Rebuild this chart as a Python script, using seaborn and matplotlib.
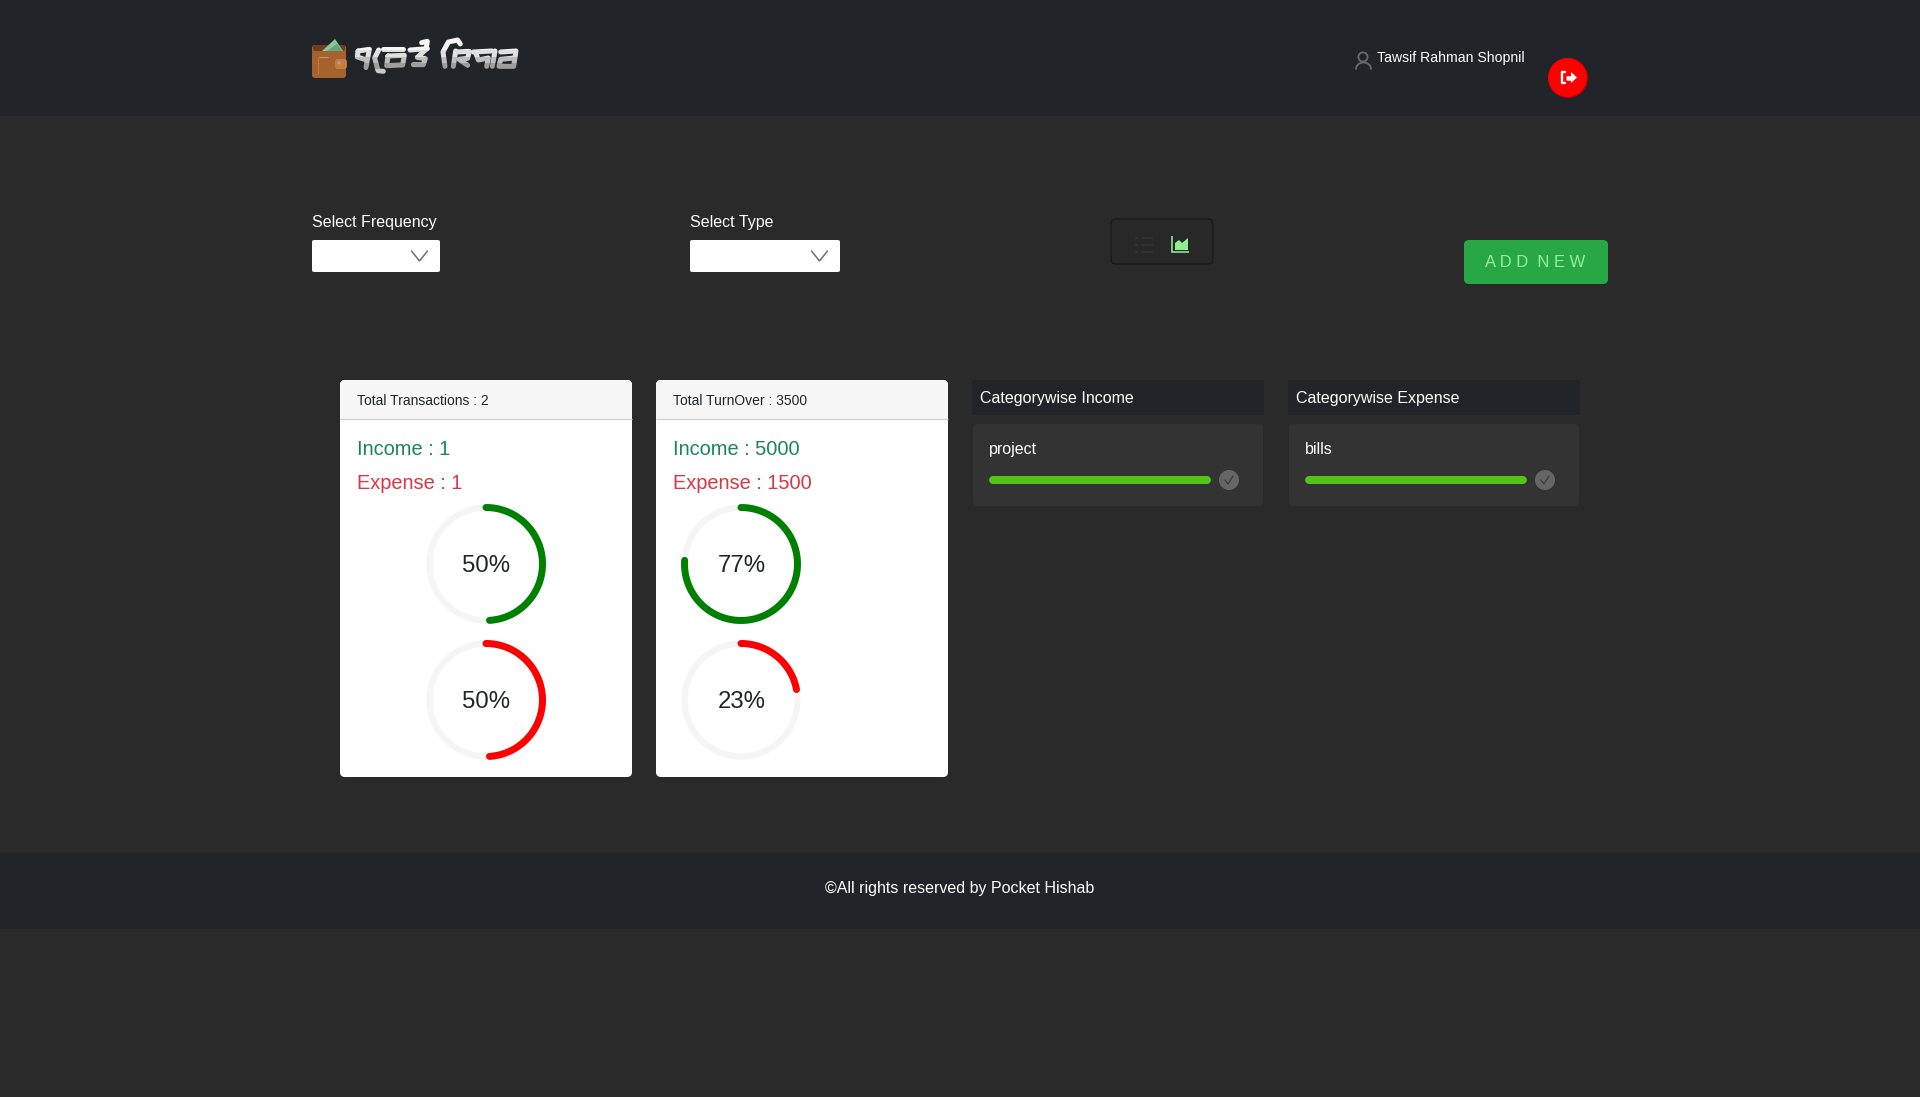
import numpy as np
import matplotlib
matplotlib.use("Agg")
import matplotlib.pyplot as plt
from matplotlib.patches import FancyBboxPatch, Circle, Rectangle, Polygon
import seaborn as sns

# =========================
# DATA

card_titles = ["Total Transactions : 2", "Total TurnOver : 3500"]
income_values = [1, 5000]
expense_values = [1, 1500]
income_pct = [50, 77]
expense_pct = [50, 23]

category_titles = ["Categorywise Income", "Categorywise Expense"]
category_names = ["project", "bills"]
category_pct = [100, 100]

filter_labels = ["Select Frequency", "Select Type"]
user_name = "Tawsif Rahman Shopnil"
button_label = "A D D  N E W"
footer_text = "©All rights reserved by Pocket Hishab"

# =========================
# COLOURS

BODY = "#2a2a2a"
DARK = "#212529"
ITEM = "#333333"
TRACK = "#f5f5f5"
W, H = 1920, 1097

sns.set_style("white")
plt.rcParams["font.family"] = ["Liberation Sans", "DejaVu Sans"]
plt.rcParams["patch.edgecolor"] = "none"

fig = plt.figure(figsize=(W / 100, H / 100), dpi=100, facecolor=BODY)
# page axes in screen pixels, everything sits on top of this
page = fig.add_axes([0, 0, 1, 1])
page.set_xlim(0, W)
page.set_ylim(H, 0)
page.axis("off")


def box(x0, y0, x1, y1, color, r=0, edge="none", lw=0, z=1):
    if r == 0:
        p = Rectangle((x0, y0), x1 - x0, y1 - y0, fc=color, ec=edge, lw=lw, zorder=z)
    else:
        p = FancyBboxPatch((x0 + r, y0 + r), x1 - x0 - 2 * r, y1 - y0 - 2 * r,
                           boxstyle=f"round,pad={r},rounding_size={r}",
                           fc=color, ec=edge, lw=lw, zorder=z)
    page.add_patch(p)
    return p


def label(x, y, s, px, color="white", ha="left"):
    page.text(x, y, s, fontsize=px * 0.72, color=color, ha=ha, va="baseline", zorder=5)


def stroke(points, color, px, z=3, cap="round", join="round"):
    xs, ys = zip(*points)
    return page.plot(xs, ys, color=color, lw=px * 0.72, solid_capstyle=cap,
                     solid_joinstyle=join, zorder=z)[0]


def dot(x, y, r, color, z=3):
    page.add_patch(Circle((x, y), r, fc=color, ec="none", lw=0, zorder=z))


def poly(points, color, z=3):
    page.add_patch(Polygon(points, fc=color, ec="none", lw=0, zorder=z))


def sub_axes(x0, y0, x1, y1, **kw):
    ax = fig.add_axes([x0 / W, 1 - y1 / H, (x1 - x0) / W, (y1 - y0) / H], **kw)
    ax.patch.set_alpha(0)
    return ax


# =========================
# HEADER AND FOOTER

box(0, 0, W, 116, DARK)
box(0, 853, W, 929, DARK)
label(W / 2, 893, footer_text, 16, ha="center")

# wallet
box(312, 45, 346, 78, "#a5622d", r=3)
box(313, 45, 345, 51, "#6e3f1e", r=2, z=2)
poly([(322, 51), (335, 39), (343, 51)], "#8cc79b", z=2)
poly([(327, 51), (337, 44), (342, 51)], "#5fa878", z=2)
box(335, 59, 347, 69, "#c77d3f", r=3, z=3)
dot(339, 63, 1.6, "#9aa5aa", z=4)
stroke([(319, 57), (328, 57)], "#c99468", 1)
stroke([(318, 58), (318, 74)], "#b87a48", 1)

# logo lettering, no Bengali font here so it is drawn as strokes like the image logo
logo_left = [
    [(24, 57), (58, 52), (48, 106)],
    [(24, 57), (22, 75), (44, 82)],
    [(86, 54), (74, 78), (84, 116), (100, 118)],
    [(114, 72), (163, 70), (158, 99), (110, 101), (114, 72)],
    [(100, 52), (160, 52)],
    [(180, 54), (232, 50)],
    [(215, 32), (232, 28), (228, 52), (202, 76), (226, 80), (220, 98), (190, 98)],
]
logo_right = [
    [(30, 103), (24, 60), (40, 30), (68, 24), (76, 36)],
    [(62, 57), (55, 103)],
    [(65, 60), (103, 58), (98, 79), (72, 82), (98, 100)],
    [(115, 60), (170, 57)],
    [(122, 62), (130, 84), (160, 78), (155, 103)],
    [(180, 57), (172, 103)],
    [(197, 60), (243, 57), (236, 103), (192, 103), (197, 82), (238, 78)],
]
logo_paths = [[(350 + x / 3, 32 + y / 3) for x, y in s] for s in logo_left]
logo_paths += [[(435 + x / 3, 32 + y / 3) for x, y in s] for s in logo_right]
bands = [(36, 50, "#f6f6f6"), (50, 57, "#e0e0e0"), (57, 63, "#bdbdbd"), (63, 69, "#9e9e9e"), (69, 80, "#c8c8c8")]
for top, bottom, col in bands:
    clip = Rectangle((340, top), 200, bottom - top, transform=page.transData)
    for s in logo_paths:
        stroke(s, col, 5).set_clip_path(clip)

# user
label(1377, 62, user_name, 14)
page.add_patch(Circle((1363, 57), 4.6, fc="none", ec="#6a6a6a", lw=1.3, zorder=3))
t = np.linspace(np.pi, 2 * np.pi, 30)
stroke(list(zip(1363.5 + 7.5 * np.cos(t), 69 + 6.5 * np.sin(t))), "#6a6a6a", 1.8)

# logout button
dot(1568, 78, 20, "#c40000")
dot(1567.5, 77.5, 19.3, "#ff0000")
stroke([(1565, 72), (1562, 72), (1562, 83), (1565, 83)], "white", 2.4, z=4)
stroke([(1566, 77.5), (1572, 77.5)], "white", 4.5, z=4, cap="butt")
poly([(1571, 72), (1577, 77.5), (1571, 83)], "white", z=4)

# =========================
# FILTERS

for lab, x0, x1 in zip(filter_labels, [312, 690], [440, 840]):
    label(x0, 227, lab, 16)
    box(x0, 240, x1, 272, "white", r=2)
    cx = x1 - 20.5
    stroke([(cx - 8, 251), (cx, 261), (cx + 8, 251)], "#666666", 1.4, z=3, join="miter")

# view toggle
box(1111, 219, 1213, 264, "#282828", r=5, edge="#141414", lw=0.7)
for y in [237.5, 244.5, 251.5]:
    stroke([(1136, y), (1137, y)], "#353535", 2)
    stroke([(1141, y), (1153, y)], "#353535", 1.5, cap="butt")
stroke([(1172, 236), (1172, 252), (1189, 252)], "#90ee90", 1.6, cap="butt", join="miter")
poly([(1175, 250), (1175, 243), (1179, 240), (1182, 243), (1188, 238), (1188, 250)], "#90ee90")

# add new button
box(1464, 240, 1608, 284, "#28a745", r=5)
label(1535.5, 267, button_label, 16.5, color="#98f098", ha="center")

# =========================
# SUMMARY CARDS

card_x = [340, 656]
ring_x = [486, 741]
for i in range(2):
    x0 = card_x[i]
    box(x0, 380, x0 + 292, 777, "white", r=5)
    box(x0, 380, x0 + 292, 419, "#f7f7f7", r=5, z=1.5)
    box(x0, 400, x0 + 292, 419, "#f7f7f7", z=1.5)
    stroke([(x0, 419), (x0 + 292, 419)], "#cfcfcf", 1.2, z=2, cap="butt")
    label(x0 + 17, 405, card_titles[i], 13.95, color="#212529")
    label(x0 + 17, 455, f"Income : {income_values[i]}", 20, color="#198754")
    label(x0 + 17, 489, f"Expense : {expense_values[i]}", 20, color="#dc3545")

    for cy, pct, col in [(564, income_pct[i], "green"), (700, expense_pct[i], "red")]:
        ax = sub_axes(ring_x[i] - 56.5, cy - 56.5, ring_x[i] + 56.5, cy + 56.5, projection="polar")
        ax.set_theta_zero_location("N")
        ax.set_theta_direction(-1)
        full = np.linspace(0, 2 * np.pi, 200)
        arc = np.linspace(0, np.deg2rad(pct * 3.6 - 3.5), 200)
        sns.lineplot(x=full, y=np.ones(200), ax=ax, color=TRACK, lw=6.2 * 0.72, clip_on=False, zorder=2)
        sns.lineplot(x=arc, y=np.ones(200), ax=ax, color=col, lw=7 * 0.72, clip_on=False,
                     solid_capstyle="round", zorder=3)
        ax.set_ylim(0, 1)
        ax.axis("off")
        label(ring_x[i] + 0.5, cy + 8, f"{pct}%", 24, color="#212529", ha="center")

# =========================
# CATEGORY PANELS

panel_x = [972, 1288]
for i in range(2):
    x0 = panel_x[i]
    box(x0, 380, x0 + 292, 415, DARK)
    label(x0 + 8, 403, category_titles[i], 16)
    box(x0 + 1, 424, x0 + 291, 506, ITEM, r=5)
    label(x0 + 17, 454, category_names[i], 16)

    ax = sub_axes(x0 + 21, 476, x0 + 235, 484)
    sns.lineplot(x=[0, category_pct[i]], y=[0, 0], ax=ax, color="#52c41a", lw=8 * 0.72,
                 solid_capstyle="round", clip_on=False)
    ax.set_xlim(0, 100)
    ax.set_ylim(-1, 1)
    ax.axis("off")

    dot(x0 + 257, 480, 10, "#666666")
    stroke([(x0 + 253, 480), (x0 + 256, 484), (x0 + 261, 476)], "#3a3a3a", 1.2, z=4)

fig.savefig("out.png", dpi=100, facecolor=BODY)
